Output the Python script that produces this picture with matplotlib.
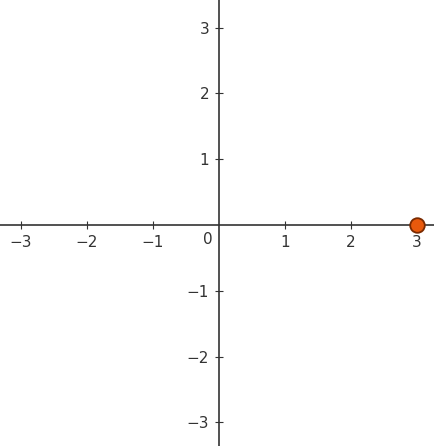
import matplotlib
matplotlib.use("Agg")
import matplotlib.pyplot as plt

xticks = [-3, -2, -1, 1, 2, 3]
yticks = [-3, -2, -1, 1, 2, 3]
point_x = [3]
point_y = [0]

fig = plt.figure(figsize=(4.34, 4.46), dpi=100)
ax = fig.add_axes([0, 0, 1, 1])
ax.set_xlim(-3.32, 3.26)
ax.set_ylim(-3.36, 3.42)
for s in ['top', 'right']:
    ax.spines[s].set_visible(False)
ax.spines['left'].set_position(('data', 0))
ax.spines['bottom'].set_position(('data', 0))
for s in ['left', 'bottom']:
    ax.spines[s].set_color('#333333')
    ax.spines[s].set_linewidth(1.2)
ax.set_xticks(xticks)
ax.set_yticks(yticks)
ax.set_xticklabels([str(v).replace('-', '\u2212') for v in xticks])
ax.set_yticklabels([str(v).replace('-', '\u2212') for v in yticks])
ax.tick_params(axis='x', direction='inout', length=6, pad=4, labelsize=11, colors='#333333')
ax.tick_params(axis='y', direction='inout', length=6, pad=4, labelsize=11, colors='#333333')
ax.text(-0.1, -0.1, '0', ha='right', va='top', fontsize=11, color='#333333')
ax.scatter(point_x, point_y, s=110, color='#E8590C', edgecolor='#7a2a00', linewidth=1.3, zorder=5, clip_on=False)
fig.savefig('out.png', dpi=100)
